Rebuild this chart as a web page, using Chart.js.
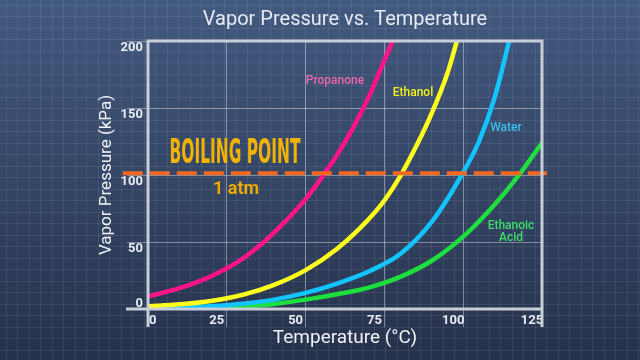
<!DOCTYPE html>
<html lang="en">
<head>
    <meta charset="UTF-8">
    <title>Vapor Pressure vs. Temperature</title>
    <script src="https://cdn.jsdelivr.net/npm/chart.js"></script>
    <style>
        body { margin: 0; background: #2f3d5c; }
    </style>
</head>
<body>
    <canvas id="vpChart" width="640" height="360"></canvas>

    <script>
        // values (temperature in °C, pressure in kPa)
        var propanoneT = [0, 10, 20, 30, 40, 50, 56, 60, 65, 70, 74, 77.6];
        var propanoneP = [9.3, 15.5, 24.5, 37.5, 57, 82, 101, 115, 135, 158, 180, 200];

        var ethanolT = [0, 10, 20, 30, 40, 50, 60, 70, 75, 80, 85, 90, 95, 98];
        var ethanolP = [2, 3.5, 6, 10.5, 18, 29, 45, 67, 81, 99, 121, 146, 176, 200];

        var waterT = [0, 10, 20, 30, 40, 50, 60, 70, 80, 90, 100, 105, 110, 114.6];
        var waterP = [0.3, 1, 2, 4, 7, 12, 19, 28, 41, 65, 102, 125, 158, 200];

        var aceticT = [24, 30, 40, 50, 60, 70, 80, 90, 100, 110, 118, 125];
        var aceticP = [1, 1.8, 3.8, 7, 11, 16, 24, 36, 54, 78, 101, 124];

        var boilingT = [-8, 126.6];
        var boilingP = [101.3, 101.3];

        var xTicks = [0, 25, 50, 75, 100, 125];
        var yTicks = [0, 50, 100, 150, 200];

        function pts(t, p) {
            return t.map(function (v, i) { return { x: v, y: p[i] }; });
        }

        // background: blueprint gradient with a fine grid
        var bgPlugin = {
            id: 'bg',
            beforeDraw: function (chart) {
                var c = chart.ctx, w = chart.width, h = chart.height;
                c.save();
                var g = c.createLinearGradient(0, 0, 0, h);
                g.addColorStop(0, '#42597f');
                g.addColorStop(1, '#26314b');
                c.fillStyle = g;
                c.fillRect(0, 0, w, h);
                c.strokeStyle = 'rgba(255,255,255,0.08)';
                c.lineWidth = 1;
                for (var x = 5.5; x < w; x += 11.5) {
                    c.beginPath(); c.moveTo(Math.round(x) + 0.5, 0); c.lineTo(Math.round(x) + 0.5, h); c.stroke();
                }
                for (var y = 4.5; y < h; y += 11.5) {
                    c.beginPath(); c.moveTo(0, Math.round(y) + 0.5); c.lineTo(w, Math.round(y) + 0.5); c.stroke();
                }
                c.restore();
            }
        };

        // frame around the plot and the text labels
        var overlayPlugin = {
            id: 'overlay',
            afterDatasetsDraw: function (chart) {
                var c = chart.ctx, a = chart.chartArea;
                c.save();
                c.strokeStyle = '#c8ced8';
                c.lineWidth = 3;
                c.beginPath();
                c.moveTo(a.left, a.bottom + 18);
                c.lineTo(a.left, a.top);
                c.lineTo(a.right, a.top);
                c.lineTo(a.right, a.bottom + 18);
                c.moveTo(a.left - 22, a.bottom);
                c.lineTo(a.right, a.bottom);
                c.stroke();

                var ys = chart.scales.y;
                c.textAlign = 'center';
                c.textBaseline = 'alphabetic';

                // curve names
                c.font = '500 12px Roboto';
                c.fillStyle = '#ee66ae';
                c.fillText('Propanone', 335, 84);
                c.fillStyle = '#f4f41e';
                c.fillText('Ethanol', 413, 96);
                c.fillStyle = '#3cbff2';
                c.fillText('Water', 506, 131);
                c.fillStyle = '#3ddc68';
                c.fillText('Ethanoic', 511, 229);
                c.fillText('Acid', 511, 241);

                // boiling point note
                var yb = ys.getPixelForValue(101.3);
                c.font = 'bold 33px "Liberation Sans Narrow", "DejaVu Sans Condensed", sans-serif';
                var tw = c.measureText('BOILING POINT').width;
                c.save();
                c.translate(235, yb - 10);
                c.scale(131 / tw, 1);
                c.fillStyle = '#f2b200';
                c.fillText('BOILING POINT', 0, 0);
                c.restore();
                c.font = 'bold 18px Roboto';
                c.fillStyle = '#e8a900';
                c.fillText('1 atm', 236, yb + 21);
                c.restore();
            }
        };

        var gridColor = 'rgba(225,230,240,0.45)';

        var chart = new Chart(document.getElementById('vpChart'), {
            type: 'line',
            data: {
                datasets: [{
                    label: 'Boiling point',
                    data: pts(boilingT, boilingP),
                    borderColor: '#f26a21',
                    borderWidth: 4,
                    borderDash: [20, 7],
                    pointRadius: 0,
                    clip: false
                }, {
                    label: 'Propanone',
                    data: pts(propanoneT, propanoneP),
                    borderColor: '#ff128a',
                    borderWidth: 4.5,
                    pointRadius: 0,
                    cubicInterpolationMode: 'monotone'
                }, {
                    label: 'Ethanol',
                    data: pts(ethanolT, ethanolP),
                    borderColor: '#ffff1c',
                    borderWidth: 4.5,
                    pointRadius: 0,
                    cubicInterpolationMode: 'monotone'
                }, {
                    label: 'Water',
                    data: pts(waterT, waterP),
                    borderColor: '#12c4ff',
                    borderWidth: 4.5,
                    pointRadius: 0,
                    cubicInterpolationMode: 'monotone'
                }, {
                    label: 'Ethanoic Acid',
                    data: pts(aceticT, aceticP),
                    borderColor: '#1de03e',
                    borderWidth: 4.5,
                    pointRadius: 0,
                    cubicInterpolationMode: 'monotone'
                }]
            },
            options: {
                responsive: false,
                animation: false,
                layout: { padding: { left: 97, right: 98, top: 0, bottom: 0 } },
                plugins: {
                    legend: { display: false },
                    tooltip: { enabled: false },
                    title: {
                        display: true,
                        text: 'Vapor Pressure vs. Temperature',
                        fullSize: false,
                        color: '#e6eaf1',
                        font: { family: 'Roboto', size: 20, weight: 'normal' },
                        padding: { top: 8, bottom: 9 }
                    }
                },
                scales: {
                    x: {
                        type: 'linear',
                        min: 0,
                        max: 125,
                        afterBuildTicks: function (s) { s.ticks = xTicks.map(function (v) { return { value: v }; }); },
                        afterFit: function (s) { s.height = 51; },
                        grid: { color: gridColor, tickColor: gridColor, tickLength: 18 },
                        border: { display: false },
                        ticks: {
                            color: '#e8ecf2',
                            font: { family: 'Roboto', size: 13, weight: 'bold' },
                            padding: -14,
                            labelOffset: -10,
                            maxRotation: 0,
                            // the 0 label sits right of its line, the others left of it
                            callback: function (v) { return v === 0 ? '\u2007\u2007\u2007\u20070' : String(v); }
                        },
                        title: {
                            display: true,
                            text: 'Temperature (°C)',
                            color: '#eef1f5',
                            font: { family: 'Roboto', size: 19, weight: 'normal' },
                            padding: { top: 0, bottom: 10 }
                        }
                    },
                    y: {
                        min: 0,
                        max: 200,
                        afterBuildTicks: function (s) { s.ticks = yTicks.map(function (v) { return { value: v }; }); },
                        afterFit: function (s) { s.width = 51; },
                        grid: { color: gridColor, tickColor: gridColor, tickLength: 21 },
                        border: { display: false },
                        ticks: {
                            color: '#e8ecf2',
                            font: function (ctx) {
                                // the 0 label sits above the bottom line
                                return { family: 'Roboto', size: 13, weight: 'bold', lineHeight: ctx.tick && ctx.tick.value === 0 ? '24px' : 1.2 };
                            },
                            padding: -16,
                            labelOffset: 7,
                            callback: function (v) { return v === 0 ? ['0', ''] : String(v); }
                        },
                        title: {
                            display: true,
                            text: 'Vapor Pressure (kPa)',
                            color: '#eef1f5',
                            font: { family: 'Roboto', size: 17, weight: 'normal' },
                            padding: { top: 0, bottom: 2 }
                        }
                    }
                }
            },
            plugins: [bgPlugin, overlayPlugin]
        });
    </script>
</body>
</html>
